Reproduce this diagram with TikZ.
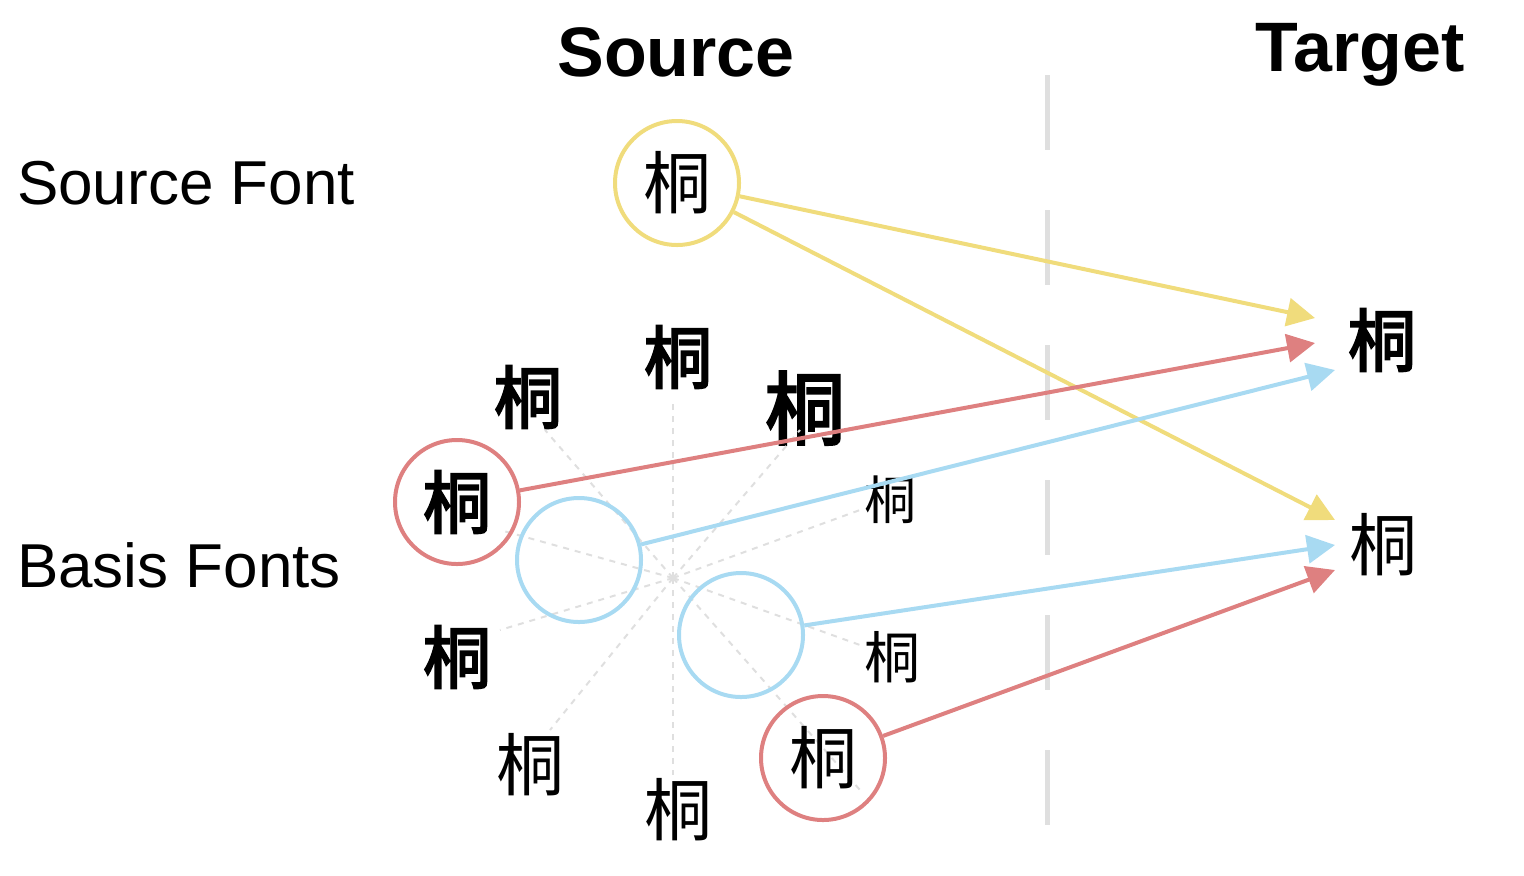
\documentclass[tikz,border=0pt]{standalone}
\usepackage{fontspec}
\setmainfont{Liberation Sans}
\newfontfamily\cjk{Noto Sans CJK SC}
\newfontfamily\cjkb{Noto Sans CJK SC}[FakeBold=3]
\usetikzlibrary{arrows.meta}
\definecolor{yel}{HTML}{F0DC7C}
\definecolor{red1}{HTML}{DE8080}
\definecolor{blu}{HTML}{A8DAF2}
\begin{document}
\begin{tikzpicture}[x=0.5pt,y=-0.5pt,
  circ/.style={circle,draw,line width=2pt,minimum size=62pt,inner sep=0pt},
  arr/.style={line width=2pt,-{Triangle[length=14pt,width=14pt]}},
  ray/.style={gray!25,dashed,line width=1pt},
  ch/.style={font=\cjk\fontsize{34}{34}\selectfont},
  chb/.style={font=\cjkb\fontsize{34}{34}\selectfont}]
\useasboundingbox (0,0) rectangle (1524,875);
\node[font=\bfseries\fontsize{35}{35}\selectfont] (s) at (676,52) {Source};
\node[font=\bfseries\fontsize{35}{35}\selectfont] (t) at (1360,55) {Target};
\node[font=\fontsize{31}{31}\selectfont,anchor=west] (sf) at (10,183) {Source Font};
\node[font=\fontsize{31}{31}\selectfont,anchor=west] (bf) at (10,565) {Basis Fonts};
\coordinate (d1) at (1047,75); \coordinate (d2) at (1047,830);
\draw[gray!25,line width=2.5pt,dash pattern=on 37.5pt off 30pt] (d1) -- (d2);
\coordinate (c) at (673,578);
\node[chb] (k1) at (528,397) {桐};
\node[chb] (k2) at (678,357) {桐};
\node[chb,font=\cjkb\fontsize{40}{40}\selectfont] (k3) at (805,408) {桐};
\node[ch,font=\cjk\fontsize{26}{26}\selectfont] (k4) at (890,500) {桐};
\node[ch,font=\cjk\fontsize{28}{28}\selectfont] (k5) at (892,657) {桐};
\node[chb] (k6) at (457,657) {桐};
\node[ch] (k7) at (530,765) {桐};
\node[ch] (k8) at (678,810) {桐};
\coordinate (e1) at (545,430); \coordinate (e2) at (673,400);
\coordinate (e3) at (800,430); \coordinate (e4) at (860,510);
\coordinate (e5) at (860,645); \coordinate (e6) at (500,630);
\coordinate (e7) at (550,730); \coordinate (e8) at (673,775);
\coordinate (e9) at (500,530); \coordinate (e10) at (860,790);
\foreach \i in {1,...,10} \draw[ray] (c) -- (e\i);
\node[circ,draw=yel,ch] (y) at (677,183) {桐};
\node[circ,draw=red1,chb] (r1) at (457,502) {桐};
\node[circ,draw=blu] (b1) at (579,560) {};
\node[circ,draw=blu] (b2) at (741,635) {};
\node[circ,draw=red1,ch] (r2) at (823,758) {桐};
\node[chb] (t1) at (1382,340) {桐};
\node[ch] (t2) at (1383,545) {桐};
\coordinate (a1) at (1315,318); \coordinate (a2) at (1335,520);
\coordinate (a3) at (1315,343); \coordinate (a4) at (1335,370);
\coordinate (a5) at (1335,545); \coordinate (a6) at (1335,570);
\draw[arr,yel] (y) -- (a1);
\draw[arr,yel] (y) -- (a2);
\draw[arr,red1] (r1) -- (a3);
\draw[arr,blu] (b1) -- (a4);
\draw[arr,blu] (b2) -- (a5);
\draw[arr,red1] (r2) -- (a6);
\end{tikzpicture}
\end{document}
